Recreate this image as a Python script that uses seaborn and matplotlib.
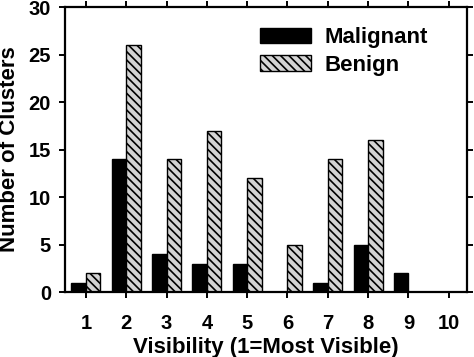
import pandas as pd
import matplotlib.pyplot as plt
import seaborn as sns

# Values
visibility = ['1', '2', '3', '4', '5', '6', '7', '8', '9', '10']
malignant = [1, 14, 4, 3, 3, 0, 1, 5, 2, 0]
benign = [2, 26, 14, 17, 12, 5, 14, 16, 0, 0]

df = pd.DataFrame({
    'Visibility': visibility * 2,
    'Count': malignant + benign,
    'Type': ['Malignant'] * len(visibility) + ['Benign'] * len(visibility),
})

sns.set_style('ticks')
plt.rcParams['font.family'] = ['Liberation Sans', 'DejaVu Sans']
plt.rcParams['font.weight'] = 'bold'
plt.rcParams['text.color'] = 'black'
plt.rcParams['axes.labelcolor'] = 'black'
plt.rcParams['xtick.color'] = 'black'
plt.rcParams['ytick.color'] = 'black'
plt.rcParams['axes.edgecolor'] = 'black'
plt.rcParams['hatch.linewidth'] = 1.2

fig = plt.figure(figsize=(4.74, 3.57), dpi=100)
ax = fig.add_axes([0.137, 0.182, 0.848, 0.798])

sns.barplot(data=df, x='Visibility', y='Count', hue='Type',
            palette={'Malignant': 'black', 'Benign': '#d4d4d4'},
            edgecolor='black', linewidth=1.0, width=0.72, gap=0,
            legend=False, ax=ax)

# Hatch the benign bars
for p in ax.containers[1]:
    p.set_hatch('\\\\\\\\')

ax.set_xlim(-0.52, 9.45)
ax.set_ylim(0, 30)
ax.set_yticks([0, 5, 10, 15, 20, 25, 30])
ax.set_xlabel('Visibility (1=Most Visible)', fontsize=16, fontweight='bold',
              labelpad=3)
ax.set_ylabel('Number of Clusters', fontsize=16, fontweight='bold',
              labelpad=6)

for s in ax.spines.values():
    s.set_visible(True)
    s.set_linewidth(1.6)
ax.tick_params(axis='both', direction='out', length=4, width=1.4,
               labelsize=14.5, top=True, right=True, pad=6)
ax.tick_params(axis='x', pad=12)
for lbl in ax.get_xticklabels() + ax.get_yticklabels():
    lbl.set_fontweight('bold')

ax.legend(handles=[ax.containers[0], ax.containers[1]],
          labels=['Malignant', 'Benign'], loc='upper right',
          bbox_to_anchor=(0.952, 1.0), frameon=False,
          prop={'size': 16, 'weight': 'bold'},
          handlelength=2.3, handleheight=0.7, labelspacing=0.3,
          handletextpad=0.6)

plt.savefig('out.png', dpi=100)
